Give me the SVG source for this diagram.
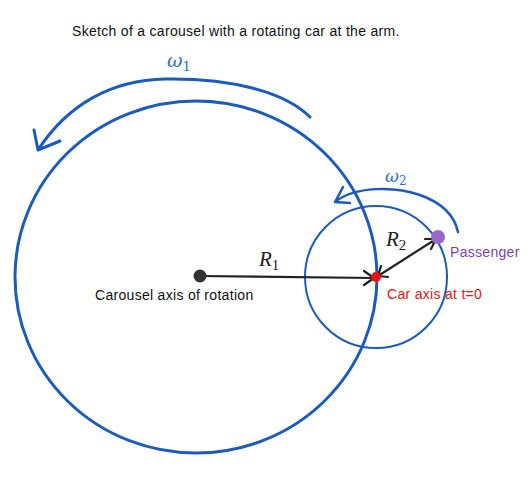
<svg xmlns="http://www.w3.org/2000/svg" width="529" height="483" viewBox="0 0 529 483">
<style>
.txt{font-family:"Liberation Sans",Arial,sans-serif;font-size:14px;letter-spacing:0.3px}
.blue{fill:none;stroke:#1b5bbd;stroke-linecap:round;stroke-linejoin:round}
.arm{fill:none;stroke:#222;stroke-width:2.2;stroke-linecap:round;stroke-linejoin:round}
.math{font-family:"Liberation Serif","Times New Roman",serif;font-style:italic}
.greek{font-family:"DejaVu Serif",serif;font-style:italic;fill:#2f6fc0}
</style>
<rect width="529" height="483" fill="#fff"/>
<text class="txt" x="72" y="36" fill="#111">Sketch of a carousel with a rotating car at the arm.</text>
<g id="carousel">
<ellipse class="blue" cx="196" cy="277" rx="181" ry="176" stroke-width="3"/>
</g>
<g id="car">
<circle class="blue" cx="376" cy="277" r="71" stroke-width="2"/>
</g>
<g id="omega1">
<path class="blue" stroke-width="3" d="M310,117 C285,92 232,78 165,79 C112,80 68,104 38,150 M34,130 L38,150 L60,141"/>
<text class="greek" x="167" y="67" font-size="19">ω<tspan font-size="13" dy="4" font-style="normal">1</tspan></text>
</g>
<g id="omega2">
<path class="blue" stroke-width="2.5" d="M458,232 C455,218 445,204 420,195 C395,186 355,186 335,202 M343,187 L335,202 L350,203"/>
<text class="greek" x="385" y="182" font-size="17">ω<tspan font-size="12" dy="3" font-style="normal">2</tspan></text>
</g>
<g id="connectors">
<path class="arm" d="M200,276 L374,278 M364,271 L374,278 L364,285"/>
<path class="arm" stroke-width="1.8" d="M378,276 L436,239 M425,239 L436,239 L431,249 M381,266 L378,276 L388,277"/>
</g>
<g id="labels">
<text class="math" x="259" y="266" font-size="21" fill="#222">R<tspan font-size="15" dy="4" font-style="normal">1</tspan></text>
<text class="math" x="386" y="246" font-size="21" fill="#222">R<tspan font-size="15" dy="4" font-style="normal">2</tspan></text>
</g>
<g id="axis">
<circle cx="200" cy="276" r="6.5" fill="#333"/>
<text class="txt" x="95" y="300" fill="#111">Carousel axis of rotation</text>
</g>
<g id="caraxis">
<circle cx="376" cy="277" r="5" fill="#ee1111"/>
<circle cx="376" cy="277" r="0.8" fill="#222"/>
<text class="txt" x="387" y="299" fill="#ee1111">Car axis at t=0</text>
</g>
<g id="passenger">
<circle cx="438" cy="237" r="7" fill="#9966cc"/>
<text class="txt" x="450" y="257" fill="#7f3fb0" letter-spacing="0">Passenger</text>
</g>
</svg>
